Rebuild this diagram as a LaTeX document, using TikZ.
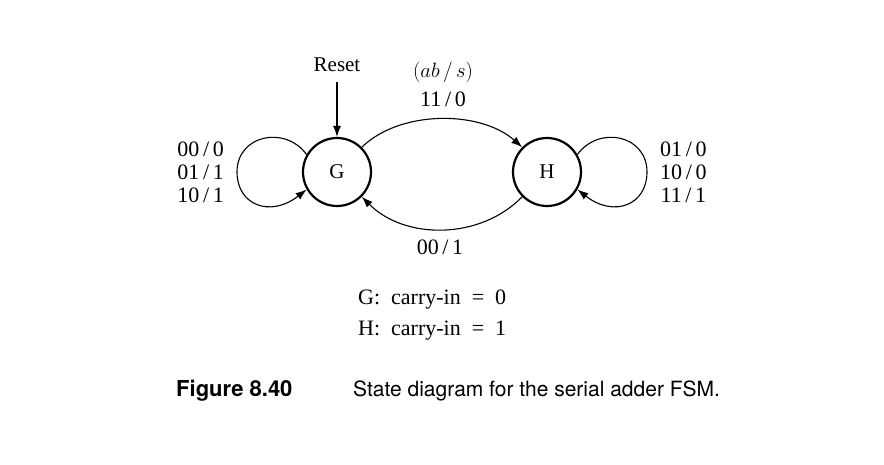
\documentclass[tikz,border=0pt]{standalone}
\usepackage{fontspec}
\setmainfont{Liberation Serif}
\newfontfamily\capfont{TeX Gyre Heros}
\usetikzlibrary{arrows.meta}
\begin{document}
\begin{tikzpicture}[x=1pt,y=-1pt,
  st/.style={circle,draw,line width=2.2pt,minimum size=68pt,inner sep=0pt,font=\fontsize{21}{24}\selectfont},
  lbl/.style={font=\fontsize{22}{23}\selectfont,align=center,inner sep=0pt},
  arr/.style={line width=1.1pt,-{Latex[length=11pt,width=8pt]}}]
\useasboundingbox (0,0) rectangle (884,464);
\node[st] (G) at (337,172) {G};
\node[st] (H) at (547,172) {H};
\node[lbl,font=\fontsize{21}{24}\selectfont] (R) at (337,65) {Reset};
\draw[arr] (337,82) -- (G.north);
\draw[arr] (G.45) .. controls (400,110) and (480,110) .. (H.135);
\draw[arr] (H.-135) .. controls (480,240) and (405,240) .. (G.-45);
\draw[arr] (G.150) .. controls (285,125) and (237,135) .. (237,172) .. controls (237,205) and (270,218) .. (G.-150);
\draw[arr] (H.30) .. controls (599,125) and (647,135) .. (647,172) .. controls (647,205) and (614,218) .. (H.-30);
\node[lbl] (ab) at (443,72) {$(ab\,/\,s)$};
\node[lbl] (t1) at (443,99) {11\,/\,0};
\node[lbl] (t2) at (440,247) {00\,/\,1};
\node[lbl,anchor=east] (gl) at (224,172) {00\,/\,0\\01\,/\,1\\10\,/\,1};
\node[lbl,anchor=west] (hl) at (660,172) {01\,/\,0\\10\,/\,0\\11\,/\,1};
\node[lbl,anchor=west] (l1) at (358,300) {G:\ \ carry-in \ = \ 0};
\node[lbl,anchor=west] (l2) at (358,331) {H:\ \ carry-in \ = \ 1};
\node[anchor=west,inner sep=0pt,font=\capfont\bfseries\fontsize{22}{24}\selectfont] (f) at (176,391) {Figure 8.40};
\node[anchor=west,inner sep=0pt,font=\capfont\fontsize{21}{24}\selectfont] (c) at (353,391) {State diagram for the serial adder FSM.};
\end{tikzpicture}
\end{document}
